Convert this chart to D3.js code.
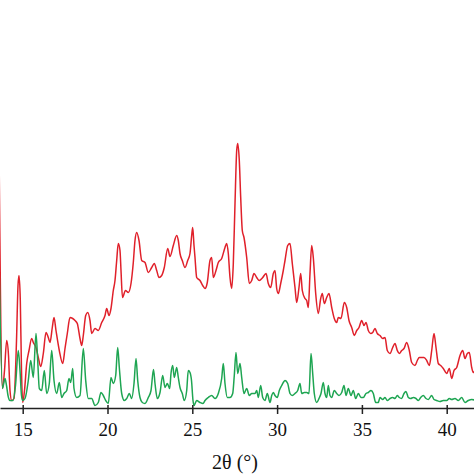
<!DOCTYPE html>
<html>
<head>
<meta charset="utf-8">
<script src="https://cdn.jsdelivr.net/npm/d3@7"></script>
<style>
  html, body { margin: 0; padding: 0; background: #fff; }
  svg { display: block; }
</style>
</head>
<body>
<div id="chart"></div>
<script>
// 2θ (deg) and intensity (a.u.)
const redTheta = [13.603,13.809,13.927,14.057,14.163,14.251,14.352,14.487,14.635,14.723,14.782,14.859,14.929,15.000,15.106,15.236,15.372,15.531,15.625,15.784,15.920,16.061,16.215,16.374,16.509,16.610,16.745,16.846,16.963,17.158,17.359,17.494,17.630,17.789,17.948,18.084,18.219,18.379,18.479,18.573,18.715,18.833,18.968,19.068,19.263,19.457,19.658,19.853,19.953,20.088,20.206,20.342,20.442,20.542,20.637,20.737,20.796,20.884,21.061,21.226,21.386,21.521,21.621,21.722,21.857,22.017,22.211,22.406,22.606,22.759,22.901,23.037,23.196,23.349,23.550,23.685,23.880,24.080,24.175,24.275,24.410,24.570,24.729,24.864,24.964,25.023,25.100,25.159,25.259,25.454,25.613,25.749,25.884,26.043,26.144,26.238,26.397,26.533,26.733,26.928,27.028,27.123,27.223,27.323,27.418,27.518,27.618,27.677,27.771,27.854,27.948,28.048,28.207,28.361,28.502,28.638,28.797,28.950,29.151,29.346,29.481,29.623,29.776,29.876,29.976,30.071,30.212,30.365,30.466,30.625,30.760,30.896,31.055,31.156,31.291,31.391,31.486,31.645,31.745,31.840,31.940,32.040,32.134,32.276,32.429,32.571,32.665,32.783,32.924,33.060,33.219,33.372,33.514,33.608,33.768,33.962,34.104,34.239,34.398,34.552,34.693,34.829,34.988,35.124,35.242,35.377,35.519,35.637,35.772,35.908,36.067,36.226,36.362,36.497,36.657,36.816,36.951,37.087,37.205,37.346,37.482,37.641,37.795,37.936,38.131,38.267,38.385,38.526,38.661,38.821,38.974,39.116,39.251,39.369,39.505,39.646,39.800,40.000,40.153,40.295,40.430,40.590,40.784,40.943,41.079,41.214,41.332,41.474,41.568,41.727]
const redInt = [257,19,37,67,52,17,7,9,67,122,132,107,37,5,17,44,57,69,65,60,50,41,54,75,70,65,80,90,77,57,44,59,74,90,89,87,84,69,62,72,92,95,87,74,79,77,85,92,99,92,99,117,127,147,164,157,137,110,117,115,124,145,167,175,167,147,145,135,140,144,137,130,132,140,159,151,162,172,167,154,147,140,147,154,172,180,162,150,130,127,122,119,125,147,150,130,137,145,149,160,164,154,130,119,144,204,257,264,247,210,177,170,150,124,127,134,130,127,130,134,124,120,134,137,119,114,124,137,147,162,164,144,120,105,120,134,117,109,107,100,134,162,150,114,94,109,114,104,110,114,100,89,85,90,89,105,100,87,80,72,77,80,87,82,85,77,74,75,79,74,72,69,70,57,54,60,64,57,54,57,59,65,57,45,42,47,50,50,50,47,42,57,74,60,44,42,39,34,39,29,37,40,52,57,49,54,55,40,35,39]

const greenTheta = [13.603,13.809,13.856,13.956,14.045,14.133,14.251,14.428,14.576,14.741,14.841,14.929,15.000,15.136,15.330,15.472,15.625,15.784,15.884,15.979,16.120,16.274,16.415,16.568,16.710,16.846,17.005,17.158,17.300,17.435,17.594,17.730,17.830,17.948,18.025,18.184,18.379,18.573,18.715,18.868,19.068,19.263,19.457,19.617,19.752,19.894,20.047,20.206,20.342,20.483,20.601,20.696,20.837,20.991,21.132,21.285,21.427,21.563,21.681,21.781,21.916,22.052,22.211,22.406,22.565,22.712,22.801,22.936,23.096,23.255,23.390,23.526,23.667,23.744,23.844,23.938,24.080,24.175,24.275,24.410,24.528,24.670,24.764,24.864,24.953,25.041,25.100,25.259,25.454,25.631,25.749,25.943,26.144,26.338,26.533,26.733,26.828,26.928,27.063,27.223,27.382,27.476,27.577,27.677,27.813,27.913,28.048,28.207,28.361,28.502,28.697,28.797,28.892,29.033,29.151,29.286,29.422,29.581,29.682,29.776,29.876,30.012,30.130,30.271,30.366,30.466,30.625,30.760,30.896,31.055,31.214,31.350,31.450,31.603,31.745,31.881,31.999,32.099,32.193,32.335,32.470,32.588,32.724,32.824,32.924,33.019,33.119,33.219,33.372,33.514,33.650,33.809,33.945,34.063,34.198,34.357,34.493,34.634,34.788,34.947,35.083,35.242,35.377,35.537,35.673,35.813,35.967,36.067,36.226,36.362,36.497,36.657,36.816,36.951,37.087,37.205,37.346,37.482,37.600,37.736,37.877,38.031,38.190,38.325,38.466,38.620,38.779,38.914,39.116,39.251,39.411,39.605,39.800,40.000,40.153,40.295,40.489,40.684,40.884,41.079,41.274,41.474,41.727]
const greenInt = [147,19,22,29,22,12,7,7,22,57,37,12,7,9,27,47,30,74,47,19,17,37,14,24,57,27,14,25,10,14,17,29,25,39,19,10,12,59,27,9,9,2,5,15,12,7,4,30,24,32,60,40,14,7,9,14,9,24,49,27,10,5,4,10,17,38,24,9,15,32,20,24,19,34,42,30,40,30,20,14,7,17,37,35,27,7,2,7,5,4,7,10,12,9,14,29,44,24,10,10,14,32,55,34,44,30,14,19,12,14,14,17,10,22,10,7,14,5,12,15,12,10,17,22,25,27,24,14,12,14,17,24,14,15,15,14,54,34,14,5,9,14,25,14,10,22,12,10,17,14,12,15,22,12,19,12,17,9,14,10,10,14,15,17,14,5,5,10,8,10,7,9,10,9,12,10,9,14,16,10,9,10,9,7,10,12,9,8,12,8,7,6,7,7,9,8,9,7,10,5,7,8,7]

const xTicks = [15, 20, 25, 30, 35, 40]
const xLabel = "2θ (°)"

const chart = function (id) {
    const width = 474
    const height = 474
    const baseY = 408
    const serif = '"Liberation Serif"'

    const svg = d3.select("#".concat(id))
        .append("svg")
        .attr("width", width)
        .attr("height", height)
        .attr("viewBox", [0, 0, width, height])

    const x = d3.scaleLinear()
        .domain([13.6616, 13.6616 + width * 0.058962])
        .range([0, width])

    const y = d3.scaleLinear()
        .domain([0, 407])
        .range([baseY - 0.5, 0.5])

    const red = d3.zip(redTheta, redInt)
    const green = d3.zip(greenTheta, greenInt)

    const line = d3.line()
        .x(d => x(d[0]))
        .y(d => y(d[1]))
        .curve(d3.curveMonotoneX)

    svg.append("defs").append("clipPath").attr("id", "plotclip")
        .append("rect").attr("x", 0).attr("y", 0).attr("width", width).attr("height", baseY)

    const layer_lines = svg.append("g").attr("clip-path", "url(#plotclip)")

    layer_lines.append("path")
        .datum(red)
        .attr("fill", "none")
        .attr("stroke", "#e0202a")
        .attr("stroke-width", 1.5)
        .attr("stroke-linejoin", "round")
        .attr("d", line)

    layer_lines.append("path")
        .datum(green)
        .attr("fill", "none")
        .attr("stroke", "#1ea552")
        .attr("stroke-width", 1.5)
        .attr("stroke-linejoin", "round")
        .attr("d", line)

    const layer_x_axis = svg.append("g")
        .attr("transform", `translate(0,${baseY})`)
        .call(d3.axisBottom(x).tickValues(xTicks).tickSize(6).tickSizeOuter(0).tickPadding(9))

    layer_x_axis.select(".domain")
        .attr("stroke", "#222")
        .attr("stroke-width", 1.5)
    layer_x_axis.selectAll(".tick line")
        .attr("stroke", "#222")
        .attr("stroke-width", 1.5)
        .attr("y1", -3)
    layer_x_axis.selectAll(".tick text")
        .attr("fill", "#111")
        .style("font-family", serif)
        .style("font-size", "19px")

    svg.append("text")
        .attr("x", 235)
        .attr("y", 469)
        .attr("text-anchor", "middle")
        .attr("fill", "#111")
        .style("font-family", serif)
        .style("font-size", "20px")
        .text(xLabel)
}

chart("chart")
</script>
</body>
</html>
